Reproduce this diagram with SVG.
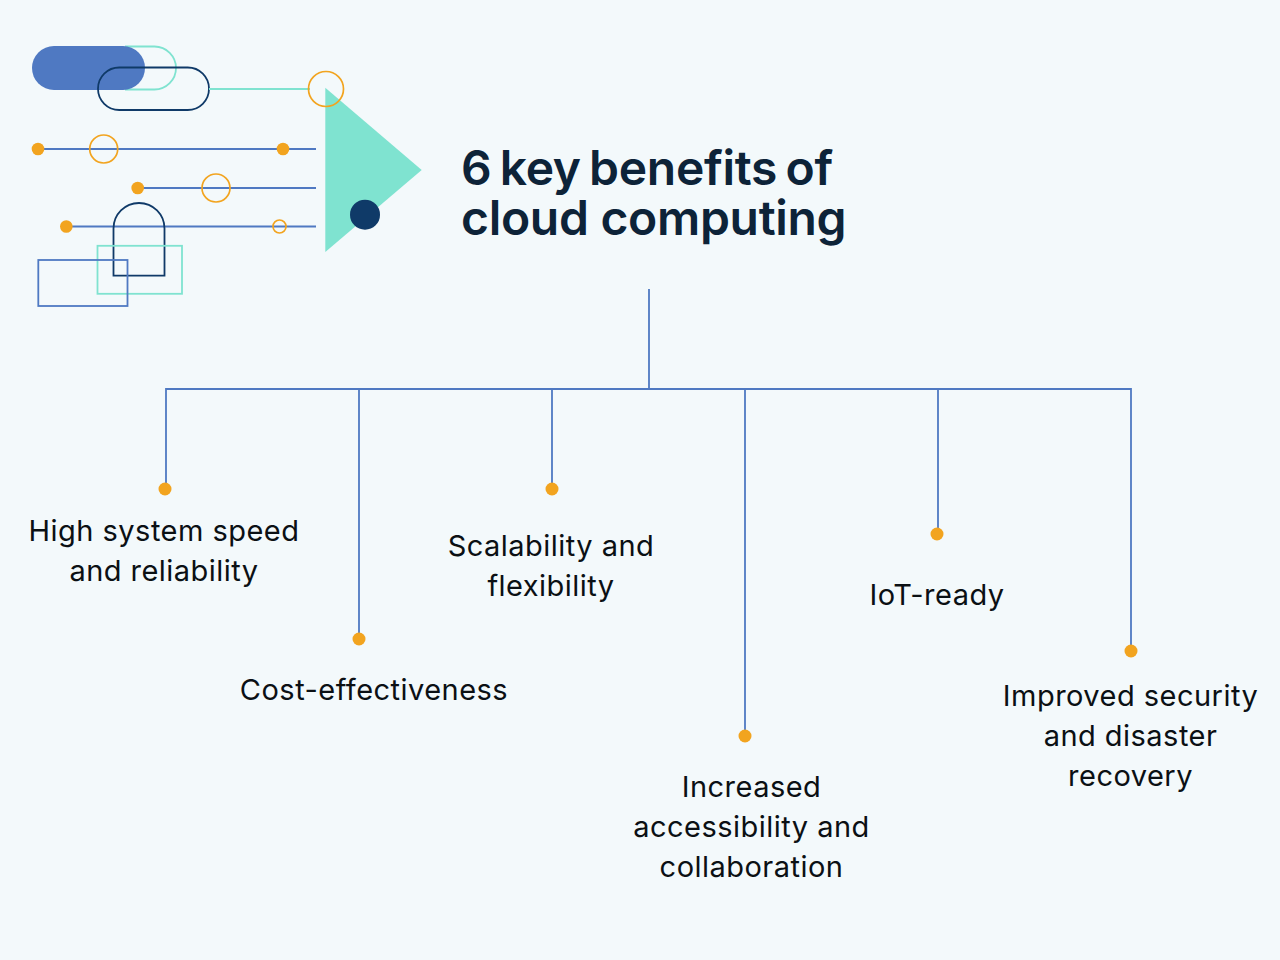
<svg xmlns="http://www.w3.org/2000/svg" width="1280" height="960" viewBox="0 0 1280 960">
<style>
.t{font-family:Inter,"Liberation Sans",sans-serif;font-size:29px;fill:#0b1014;text-anchor:middle;letter-spacing:.47px}
.h{font-family:Inter,"Liberation Sans",sans-serif;font-size:48px;font-weight:600;fill:#0d2338;letter-spacing:-.3px}
.b{fill:none;stroke:#4f79c2;stroke-width:1.8}
.m{fill:none;stroke:#7fe3d0;stroke-width:1.8}
.n{fill:none;stroke:#0f3a68;stroke-width:1.8}
.o{fill:none;stroke:#f2a41f;stroke-width:1.7}
.d{fill:#f2a41f}
</style>
<rect width="1280" height="960" fill="#f3f9fb"/>
<g id="decoration">
<path d="M125 46.500H154.500a21.500 21.500 0 0 1 0 43H125" class="m"/>
<rect x="32" y="46" width="113" height="44" rx="22" fill="#4f79c2"/>
<rect x="98" y="67.500" width="111" height="42.500" rx="21.250" class="n"/>
<path d="M209 89H310" class="m"/>
<path d="M38 149H316M138 188H316M66 226.500H316" class="b"/>
<path d="M325.300 87.700L421.700 170L325.300 252Z" fill="#7fe3d0"/>
<circle cx="326" cy="89" r="17.500" class="o"/>
<circle cx="103.700" cy="149" r="14" class="o"/>
<circle cx="216" cy="188" r="14" class="o"/>
<circle cx="279.500" cy="226.500" r="6.500" class="o"/>
<circle cx="38" cy="149" r="6.300" class="d"/>
<circle cx="283" cy="149" r="6.300" class="d"/>
<circle cx="137.700" cy="188" r="6.300" class="d"/>
<circle cx="66.300" cy="226.500" r="6.300" class="d"/>
<path d="M113.500 275.700V228.500a25.500 25.500 0 0 1 51 0V275.700Z" class="n"/>
<rect x="97.500" y="245.800" width="84.500" height="48" class="m"/>
<rect x="38.300" y="260" width="89.200" height="46" class="b"/>
<circle cx="365" cy="214.700" r="15" fill="#0f3a68"/>
</g>
<g id="title"><text class="h" x="461" y="185" word-spacing="-3.500">6 key benefits of</text><text class="h" x="461" y="234.500">cloud computing</text></g>
<g id="connectors">
<path d="M649 289V389M166 489V389H1131V651M359 389V639M552 389V489M745 389V736M938 389V534" class="b"/>
</g>
<g id="n1"><circle cx="165" cy="489" r="6.500" class="d"/><text class="t" x="164" y="541">High system speed</text><text class="t" x="164" y="581">and reliability</text></g>
<g id="n2"><circle cx="359" cy="639" r="6.500" class="d"/><text class="t" x="374" y="700">Cost-effectiveness</text></g>
<g id="n3"><circle cx="552" cy="489" r="6.500" class="d"/><text class="t" x="551" y="556">Scalability and</text><text class="t" x="551" y="596">flexibility</text></g>
<g id="n4"><circle cx="745" cy="736" r="6.500" class="d"/><text class="t" x="751.500" y="797">Increased</text><text class="t" x="751.500" y="837">accessibility and</text><text class="t" x="751.500" y="877">collaboration</text></g>
<g id="n5"><circle cx="937" cy="534" r="6.500" class="d"/><text class="t" x="937" y="605">IoT-ready</text></g>
<g id="n6"><circle cx="1131" cy="651" r="6.500" class="d"/><text class="t" x="1130.500" y="706">Improved security</text><text class="t" x="1130.500" y="746">and disaster</text><text class="t" x="1130.500" y="786">recovery</text></g>
</svg>
